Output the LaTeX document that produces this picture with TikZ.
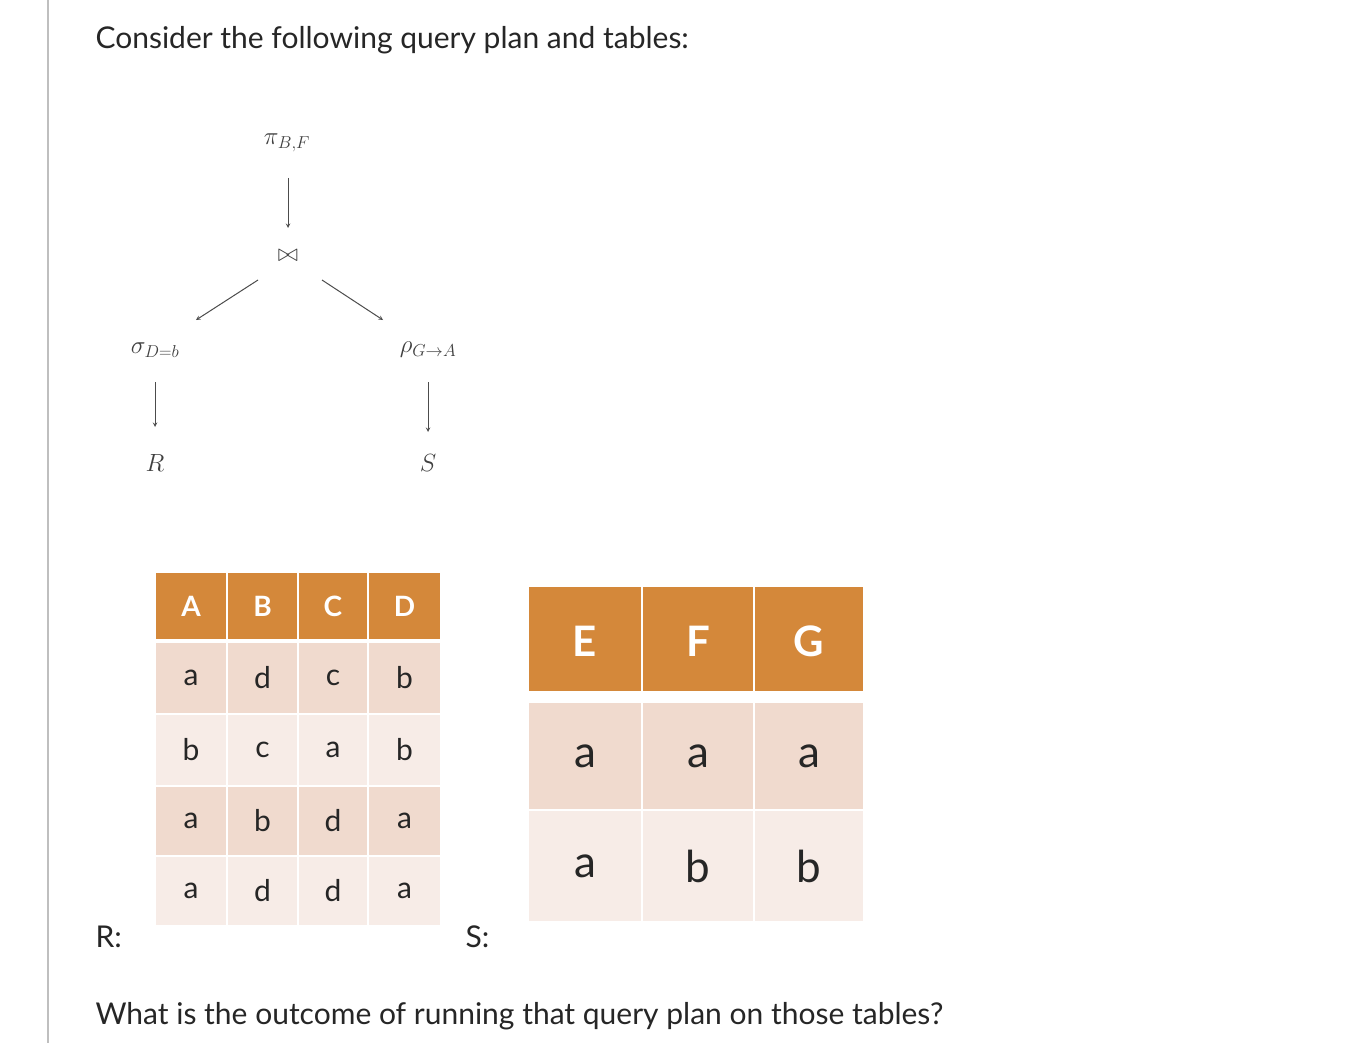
\documentclass[tikz,border=0pt]{standalone}
\usepackage{fontspec}
\setmainfont{Lato}
\usepackage{amssymb}
\begin{document}
\begin{tikzpicture}[x=1pt,y=-1pt,
  hdr/.style={fill=hdrc,draw=white,line width=2pt},
  rowa/.style={fill=rowac,draw=white,line width=2pt},
  rowb/.style={fill=rowbc,draw=white,line width=2pt},
  plan/.style={text=black!75,font=\fontsize{26}{30}\selectfont},
  parr/.style={-stealth,draw=black!70,line width=1pt},
  txt/.style={font=\fontsize{30}{36}\selectfont,text=black!85,anchor=west}]
\definecolor{hdrc}{HTML}{D4883A}
\definecolor{rowac}{HTML}{F0DACE}
\definecolor{rowbc}{HTML}{F7ECE7}
\useasboundingbox (0,0) rectangle (1368,1043);
\fill[white] (0,0) rectangle (1368,1043);
\draw[black!25,line width=2pt] (48,0) -- (48,1043);
\node[txt] (title) at (92,40) {Consider the following query plan and tables:};
\node[txt] (q) at (92,1016) {What is the outcome of running that query plan on those tables?};
% plan
\node[plan] (pi) at (287,143) {$\pi_{B,F}$};
\node[plan] (join) at (288,256) {$\bowtie$};
\node[plan] (sig) at (155,350) {$\sigma_{D=b}$};
\node[plan] (rho) at (428,350) {$\rho_{G\to A}$};
\node[plan] (R) at (155,463) {$R$};
\node[plan] (S) at (428,463) {$S$};
\draw[parr] (288,178) -- (288,228);
\draw[parr] (258,280) -- (196,320);
\draw[parr] (322,280) -- (383,320);
\draw[parr] (155,382) -- (155,427);
\draw[parr] (428,382) -- (428,432);
% table R
\foreach \x/\xx/\t in {155/227/A,227/298/B,298/368/C,368/441/D}{
  \draw[hdr] (\x,572) rectangle (\xx,640);
  \node[text=white,font=\fontsize{28}{32}\selectfont\bfseries] at ({(\x+\xx)/2},606) {\t};}
\foreach \ya/\yb/\s/\a/\b/\c/\d in {642/714/rowa/a/d/c/b,714/786/rowb/b/c/a/b,786/856/rowa/a/b/d/a,856/926/rowb/a/d/d/a}{
  \foreach \x/\xx/\t in {155/227/\a,227/298/\b,298/368/\c,368/441/\d}{
    \draw[\s] (\x,\ya) rectangle (\xx,\yb);
    \node[text=black!85,font=\fontsize{30}{34}\selectfont] at ({(\x+\xx)/2},{(\ya+\yb)/2}) {\t};}}
% table S
\foreach \x/\xx/\t in {528/642/E,642/754/F,754/864/G}{
  \draw[hdr] (\x,586) rectangle (\xx,692);
  \node[text=white,font=\fontsize{42}{46}\selectfont\bfseries] at ({(\x+\xx)/2},641) {\t};}
\foreach \ya/\yb/\s/\a/\b/\c in {702/810/rowa/a/a/a,810/922/rowb/a/b/b}{
  \foreach \x/\xx/\t in {528/642/\a,642/754/\b,754/864/\c}{
    \draw[\s] (\x,\ya) rectangle (\xx,\yb);
    \node[text=black!85,font=\fontsize{44}{48}\selectfont] at ({(\x+\xx)/2},{(\ya+\yb)/2}) {\t};}}
\node[txt] (rl) at (92,937) {R:};
\node[txt] (sl) at (462,937) {S:};
\end{tikzpicture}
\end{document}
